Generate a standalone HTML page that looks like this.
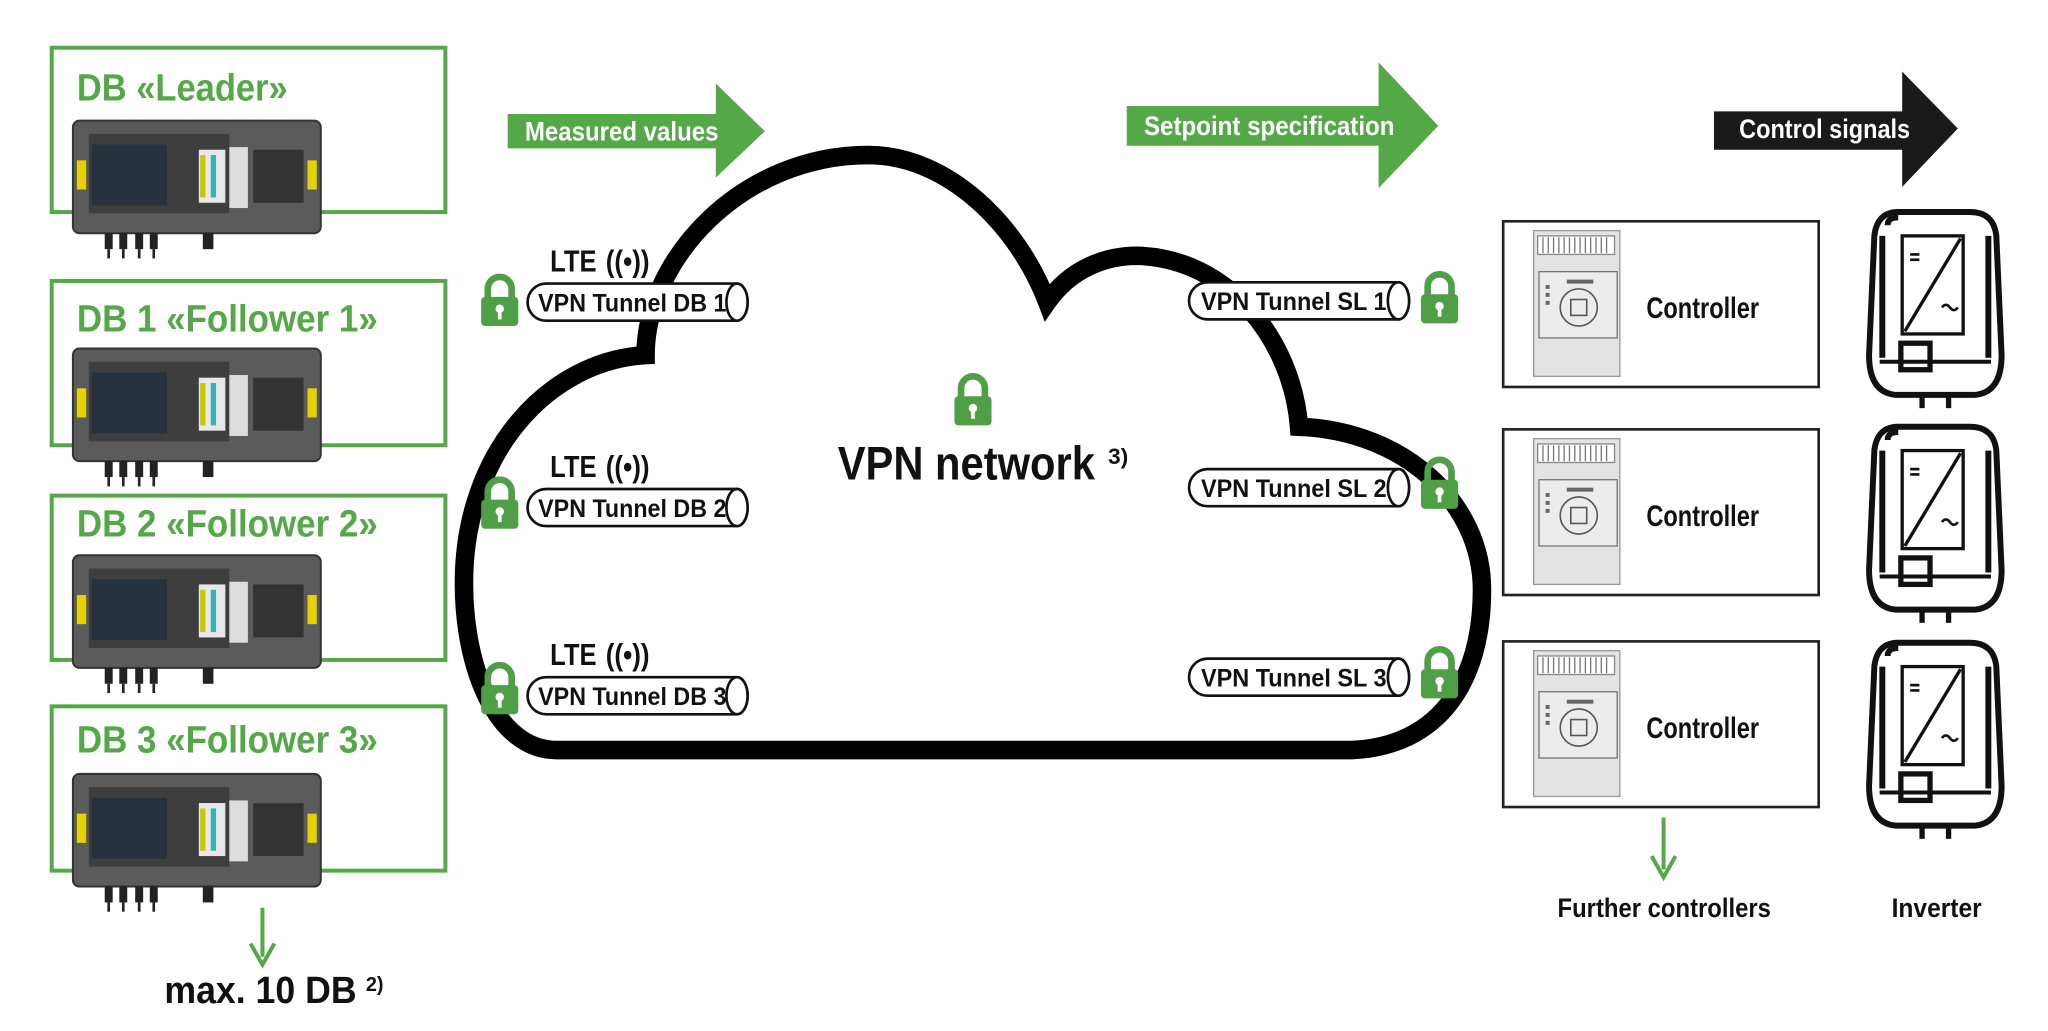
<!DOCTYPE html>
<html><head><meta charset="utf-8"><style>
html,body{margin:0;padding:0;background:#fff;}
svg{display:block;}
text{font-family:"Liberation Sans Narrow","Liberation Sans",sans-serif;font-weight:bold;}
</style></head><body>
<svg width="2048" height="1031" viewBox="0 0 1545 778" preserveAspectRatio="none" xmlns="http://www.w3.org/2000/svg">
<defs>
<g id="dev">
  <rect x="0" y="0" width="187" height="85" rx="5" fill="#5b5b5b" stroke="#333" stroke-width="1.5"/>
  <rect x="12" y="10" width="106" height="60" fill="#3e3e3e"/>
  <rect x="14" y="18" width="57" height="46" fill="#27323c"/>
  <rect x="95" y="22" width="20" height="40" fill="#e8e8e8"/>
  <rect x="96" y="26" width="4" height="32" fill="#c8c800"/>
  <rect x="104" y="26" width="4" height="32" fill="#3bb0b0"/>
  <rect x="118" y="20" width="14" height="46" fill="#ddd"/>
  <rect x="136" y="22" width="38" height="40" fill="#333"/>
  <rect x="3" y="30" width="7" height="22" fill="#e6d200"/>
  <rect x="177" y="30" width="7" height="22" fill="#e6d200"/>
  <g fill="#222"><rect x="24" y="85" width="6" height="12"/><rect x="35" y="85" width="6" height="12"/><rect x="47" y="85" width="6" height="12"/><rect x="58" y="85" width="6" height="12"/><rect x="98" y="85" width="8" height="12"/></g>
  <g stroke="#222" stroke-width="2"><line x1="27" y1="97" x2="27" y2="104"/><line x1="38" y1="97" x2="38" y2="104"/><line x1="50" y1="97" x2="50" y2="104"/><line x1="61" y1="97" x2="61" y2="104"/></g>
</g>
<g id="lock">
  <path d="M5,17 V10 A9,9 0 0 1 23,10 V17" fill="none" stroke="#4e9f45" stroke-width="5"/>
  <rect x="0" y="16" width="28" height="22" rx="3" fill="#4e9f45"/>
  <circle cx="14" cy="25" r="3.2" fill="#fff"/><rect x="12.6" y="25" width="2.8" height="8" fill="#fff"/>
</g>
<g id="tun">
  <path d="M14,0 H158 A8,14 0 0 1 158,28 H14 A14,14 0 0 1 14,0 Z" fill="#fff" stroke="#111" stroke-width="2"/>
  <ellipse cx="158" cy="14" rx="8" ry="14" fill="#fff" stroke="#111" stroke-width="2"/>
</g>
<g id="ctrl">
  <rect x="0" y="0" width="238" height="125" fill="#fff" stroke="#222" stroke-width="2"/>
  <rect x="23" y="7" width="65" height="110" fill="#e3e3e3" stroke="#999" stroke-width="1"/>
  <rect x="26" y="11" width="58" height="14" fill="#fff" stroke="#888" stroke-width="1"/>
  <g stroke="#777" stroke-width="1"><line x1="30" y1="12" x2="30" y2="24"/><line x1="34" y1="12" x2="34" y2="24"/><line x1="38" y1="12" x2="38" y2="24"/><line x1="42" y1="12" x2="42" y2="24"/><line x1="46" y1="12" x2="46" y2="24"/><line x1="50" y1="12" x2="50" y2="24"/><line x1="54" y1="12" x2="54" y2="24"/><line x1="58" y1="12" x2="58" y2="24"/><line x1="62" y1="12" x2="62" y2="24"/><line x1="66" y1="12" x2="66" y2="24"/><line x1="70" y1="12" x2="70" y2="24"/><line x1="74" y1="12" x2="74" y2="24"/><line x1="78" y1="12" x2="78" y2="24"/></g>
  <rect x="27" y="38" width="59" height="50" fill="#ececec" stroke="#777" stroke-width="1"/>
  <circle cx="57" cy="65" r="14" fill="none" stroke="#555" stroke-width="1.2"/>
  <rect x="51" y="59" width="12" height="12" fill="none" stroke="#555" stroke-width="1.2"/>
  <g fill="#666"><rect x="32" y="48" width="3" height="3"/><rect x="32" y="54" width="3" height="3"/><rect x="32" y="60" width="3" height="3"/><rect x="48" y="44" width="20" height="3"/></g>
  <text x="108" y="73" font-size="22" fill="#111" textLength="85" lengthAdjust="spacingAndGlyphs">Controller</text>
</g>
<g id="inv" fill="none" stroke="#111" stroke-width="4.5">
  <path d="M22,2 H76 Q94,2 96,20 L100,110 Q100,138 80,140 H20 Q0,138 0,110 L4,20 Q6,2 22,2 Z"/>
  <path d="M14,12 Q14,6 22,6"/>
  <path d="M10,20 V112 M90,20 V112"/>
  <path d="M8,115 H92" stroke-width="3"/>
  <rect x="25" y="20" width="46" height="74" stroke-width="2.5"/>
  <line x1="27" y1="92" x2="69" y2="22" stroke-width="2.5"/>
  <line x1="31" y1="34" x2="38" y2="34" stroke-width="2"/><line x1="31" y1="38" x2="38" y2="38" stroke-width="2"/>
  <path d="M55,74 q3,-4 6,0 q3,4 6,0" stroke-width="2"/>
  <rect x="24" y="101" width="22" height="20" stroke-width="4"/>
  <line x1="40" y1="140" x2="40" y2="150" stroke-width="4"/><line x1="60" y1="140" x2="60" y2="150" stroke-width="4"/>
</g>
</defs>

<!-- DB boxes -->
<g fill="none" stroke="#55a848" stroke-width="3">
<rect x="39" y="36" width="297" height="124"/>
<rect x="39" y="212" width="297" height="124"/>
<rect x="39" y="374" width="297" height="124"/>
<rect x="39" y="533" width="297" height="124"/>
</g>
<g fill="#55a848" font-size="29">
<text x="58" y="76" textLength="159" lengthAdjust="spacingAndGlyphs">DB «Leader»</text>
<text x="58" y="250" textLength="227" lengthAdjust="spacingAndGlyphs">DB 1 «Follower 1»</text>
<text x="58" y="405" textLength="227" lengthAdjust="spacingAndGlyphs">DB 2 «Follower 2»</text>
<text x="58" y="568" textLength="227" lengthAdjust="spacingAndGlyphs">DB 3 «Follower 3»</text>
</g>
<use href="#dev" x="55" y="91"/>
<use href="#dev" x="55" y="263"/>
<use href="#dev" x="55" y="419"/>
<use href="#dev" x="55" y="584"/>

<!-- down arrow DB -->
<line x1="198" y1="685" x2="198" y2="722" stroke="#55a848" stroke-width="3"/>
<path d="M189,712 L198,728 L207,712" fill="none" stroke="#55a848" stroke-width="3"/>
<text x="124" y="757" font-size="29" fill="#111" textLength="145" lengthAdjust="spacingAndGlyphs">max. 10 DB</text>
<text x="276" y="748" font-size="15" fill="#111">2)</text>

<!-- arrows -->
<path d="M383,86 H540 V63 L577,99 L540,134 V112 H383 Z" fill="#55a848"/>
<text x="396" y="106" font-size="20" fill="#fff" textLength="146" lengthAdjust="spacingAndGlyphs">Measured values</text>
<path d="M850,80 H1040 V47 L1085,95 L1040,142 V110 H850 Z" fill="#55a848"/>
<text x="863" y="102" font-size="20" fill="#fff" textLength="189" lengthAdjust="spacingAndGlyphs">Setpoint specification</text>
<path d="M1293,84 H1435 V54 L1477,97 L1435,141 V113 H1293 Z" fill="#1a1a1a"/>
<text x="1312" y="104" font-size="20" fill="#fff" textLength="129" lengthAdjust="spacingAndGlyphs">Control signals</text>

<!-- cloud -->
<path d="M487,268 C487,195 560,117 655,117 C715,117 768,170 790,228 C808,202 835,193 858,193 C928,195 975,258 980,322 C1060,325 1118,380 1118,445 C1118,515 1085,563 1020,566 L420,566 C375,566 350,505 350,440 C350,340 415,272 487,268 Z" fill="#fff" stroke="#000" stroke-width="14" stroke-linejoin="miter"/>

<use href="#lock" x="720" y="283"/>
<text x="632" y="362" font-size="36" fill="#111" textLength="194" lengthAdjust="spacingAndGlyphs">VPN network</text>
<text x="836" y="350" font-size="17" fill="#111">3)</text>

<!-- left tunnels -->
<g font-size="23" fill="#111">
<text x="415" y="205" textLength="35" lengthAdjust="spacingAndGlyphs">LTE</text>
<text x="415" y="360" textLength="35" lengthAdjust="spacingAndGlyphs">LTE</text>
<text x="415" y="502" textLength="35" lengthAdjust="spacingAndGlyphs">LTE</text>
<text x="457" y="205" textLength="33" lengthAdjust="spacingAndGlyphs">((•))</text>
<text x="457" y="360" textLength="33" lengthAdjust="spacingAndGlyphs">((•))</text>
<text x="457" y="502" textLength="33" lengthAdjust="spacingAndGlyphs">((•))</text>
</g>
<use href="#tun" x="398" y="214"/>
<use href="#tun" x="398" y="369"/>
<use href="#tun" x="398" y="511"/>
<use href="#tun" x="897" y="213"/>
<use href="#tun" x="897" y="354"/>
<use href="#tun" x="897" y="497"/>
<g font-size="19" fill="#111">
<text x="406" y="235" textLength="142" lengthAdjust="spacingAndGlyphs">VPN Tunnel DB 1</text>
<text x="406" y="390" textLength="142" lengthAdjust="spacingAndGlyphs">VPN Tunnel DB 2</text>
<text x="406" y="532" textLength="142" lengthAdjust="spacingAndGlyphs">VPN Tunnel DB 3</text>
<text x="906" y="234" textLength="140" lengthAdjust="spacingAndGlyphs">VPN Tunnel SL 1</text>
<text x="906" y="375" textLength="140" lengthAdjust="spacingAndGlyphs">VPN Tunnel SL 2</text>
<text x="906" y="518" textLength="140" lengthAdjust="spacingAndGlyphs">VPN Tunnel SL 3</text>
</g>
<use href="#lock" x="363" y="208"/>
<use href="#lock" x="363" y="361"/>
<use href="#lock" x="363" y="501"/>
<use href="#lock" x="1072" y="206"/>
<use href="#lock" x="1072" y="346"/>
<use href="#lock" x="1072" y="489"/>

<!-- controllers -->
<use href="#ctrl" x="1134" y="167"/>
<use href="#ctrl" x="1134" y="324"/>
<use href="#ctrl" x="1134" y="484"/>
<use href="#inv" x="1410" y="158"/>
<use href="#inv" x="1410" y="320"/>
<use href="#inv" x="1410" y="483"/>

<line x1="1255" y1="617" x2="1255" y2="656" stroke="#55a848" stroke-width="3"/>
<path d="M1246,646 L1255,662 L1264,646" fill="none" stroke="#55a848" stroke-width="3"/>
<text x="1175" y="692" font-size="20" fill="#111" textLength="161" lengthAdjust="spacingAndGlyphs">Further controllers</text>
<text x="1427" y="692" font-size="20" fill="#111" textLength="68" lengthAdjust="spacingAndGlyphs">Inverter</text>
</svg>
</body></html>
